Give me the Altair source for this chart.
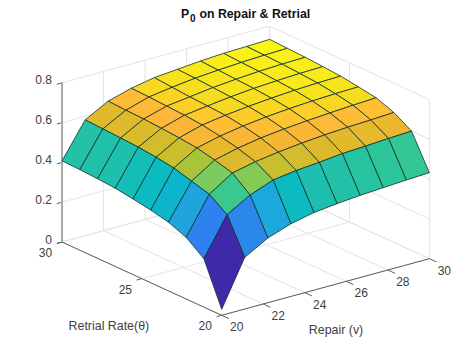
import altair as alt

x_vals = [20 + k * 10 / 9 for k in range(10)]
y_vals = [20 + k * 10 / 9 for k in range(10)]
# P0; Z[i][j]: i along Repair, j along Retrial Rate
Z = [
    [.030, .243, .310, .345, .365, .380, .393, .400, .405, .408],
    [.260, .433, .495, .520, .545, .558, .568, .573, .578, .582],
    [.325, .500, .570, .594, .614, .624, .631, .637, .640, .645],
    [.365, .544, .595, .622, .642, .657, .665, .670, .675, .678],
    [.390, .560, .612, .642, .661, .674, .680, .685, .692, .700],
    [.403, .570, .625, .655, .675, .687, .694, .700, .706, .710],
    [.413, .582, .635, .665, .685, .697, .705, .710, .715, .720],
    [.420, .588, .642, .673, .692, .705, .712, .718, .722, .727],
    [.427, .595, .647, .680, .697, .710, .717, .723, .727, .730],
    [.432, .600, .653, .686, .700, .713, .720, .726, .730, .734],
]
x_ticks = [20, 22, 24, 26, 28, 30]
y_ticks = [20, 25, 30]
z_ticks = [0, 0.2, 0.4, 0.6, 0.8]
z_tick_labels = ["0", "0.2", "0.4", "0.6", "0.8"]
color_z = [.03, .2425, .26, .31, .325, .345, .365, .39, .405, .43, .495, .52, .545, .57, .60, .63, .65, .68, .72, .734]
color_hex = ["#3e2aa8", "#2e82ef", "#2b88ea", "#1fa4de", "#1ba8dc", "#0db5cc", "#0cbbc0", "#1fbfb0", "#24c1a5", "#37c891",
             "#7ccb5e", "#a9c43a", "#c9bf2d", "#dcba2c", "#eeb82e", "#fdb63a", "#fec231", "#f6dc20",
             "#f9ef1a", "#f9fb15"]


def project(x, y, z):
    """Orthographic view of the data cube, in image pixels."""
    i, j = (x - 20) / 10 * 9, (y - 20) / 10 * 9
    return [221.7 + 23.07 * i - 17.74 * j, 315.3 - 6.29 * i - 8.14 * j - 199.0 * z]


def feature(kind, coords, **props):
    return {"type": "Feature", "properties": props, "geometry": {"type": kind, "coordinates": coords}}


# light grid
grid = []
for x in x_ticks:
    grid.append(feature("LineString", [project(x, 20, 0), project(x, 30, 0), project(x, 30, .8)]))
for y in y_ticks:
    grid.append(feature("LineString", [project(20, y, 0), project(30, y, 0), project(30, y, .8)]))
for z in z_ticks:
    grid.append(feature("LineString", [project(20, 30, z), project(30, 30, z), project(30, 20, z)]))

# axis lines and ticks
axis = [feature("LineString", [project(20, 30, 0), project(20, 20, 0), project(30, 20, 0)])]
for x in x_ticks:
    axis.append(feature("LineString", [project(x, 20, 0), project(x, 19.55, 0)]))
for y in y_ticks:
    axis.append(feature("LineString", [project(20, y, 0), project(19.75, y, 0)]))
zaxis = [feature("LineString", [project(20, 30, 0), project(20, 30, .8)])]
for z in z_ticks:
    axis.append(feature("LineString", [project(20, 30, z), project(19.75, 30, z)]))

# surface, back to front
faces = []
for i in range(8, -1, -1):
    for j in range(8, -1, -1):
        ring = [project(x_vals[a], y_vals[b], Z[a][b])
                for a, b in [(i, j), (i + 1, j), (i + 1, j + 1), (i, j + 1), (i, j)]]
        faces.append(feature("Polygon", [ring], c=Z[i][j]))

projection = alt.Projection(type="identity", scale=1, translate=[-8, -8])
def shapes(features, **mark):
    return alt.Chart(alt.Data(values=features, format=alt.DataFormat(type="json"))).mark_geoshape(**mark).project(**projection.to_dict())

grid_l = shapes(grid, filled=False, stroke="#e4e4e4", strokeWidth=1)
surf = alt.Chart(alt.Data(values=faces)).mark_geoshape(stroke="#10302c", strokeWidth=0.8).encode(
    color=alt.Color("properties.c:Q", scale=alt.Scale(domain=color_z, range=color_hex), legend=None)
).project(**projection.to_dict())
axis_l = shapes(axis, filled=False, stroke="#5e5e5e", strokeWidth=1)
zaxis_l = shapes(zaxis, filled=False, stroke="#a8a8a8", strokeWidth=2)

labels = []
for t, s in zip(z_ticks, z_tick_labels):
    p = project(20, 30, t)
    labels.append({"lon": p[0] - 10, "lat": p[1] - 2.5, "t": s, "a": "right"})
for t in y_ticks:
    p = project(20, t, 0)
    labels.append({"lon": p[0] - 16.5, "lat": p[1] + 11, "t": str(t), "a": "center"})
for t in x_ticks:
    p = project(t, 20, 0)
    labels.append({"lon": p[0] + 15, "lat": p[1] + 12, "t": str(t), "a": "center"})
p_y, p_x = project(20, 25, 0), project(25, 20, 0)
names = [{"lon": p_y[0] - 33, "lat": p_y[1] + 47, "t": "Retrial Rate(θ)"},
         {"lon": p_x[0] + 10.5, "lat": p_x[1] + 43, "t": "Repair (v)"}]


def text_layer(rows, align, **mark):
    base = alt.Chart(alt.Data(values=rows)).mark_text(align=align, baseline="middle", font="Liberation Sans", **mark)
    return base.encode(longitude="lon:Q", latitude="lat:Q", text="t:N").project(**projection.to_dict())


tick_r = text_layer([r for r in labels if r["a"] == "right"], "right", fontSize=12, color="#404040")
tick_c = text_layer([r for r in labels if r["a"] == "center"], "center", fontSize=12, color="#404040")
name_l = text_layer(names, "center", fontSize=12.4, color="#404040")
title_a = text_layer([{"lon": 185, "lat": 14, "t": "P"}], "center", fontSize=12.3, fontWeight="bold", color="#111111")
title_b = text_layer([{"lon": 192.7, "lat": 18.5, "t": "0"}], "center", fontSize=10, fontWeight="bold", color="#111111")
title_c = text_layer([{"lon": 254.8, "lat": 14, "t": "on Repair & Retrial"}], "center", fontSize=12.3, fontWeight="bold", color="#111111")

chart = alt.layer(grid_l, axis_l, zaxis_l, surf, tick_r, tick_c, name_l, title_a, title_b, title_c).properties(
    width=458, height=339, background="white", padding=0
).configure_view(stroke=None)
chart.save("out.html", embed_options={"renderer": "svg", "actions": False})
